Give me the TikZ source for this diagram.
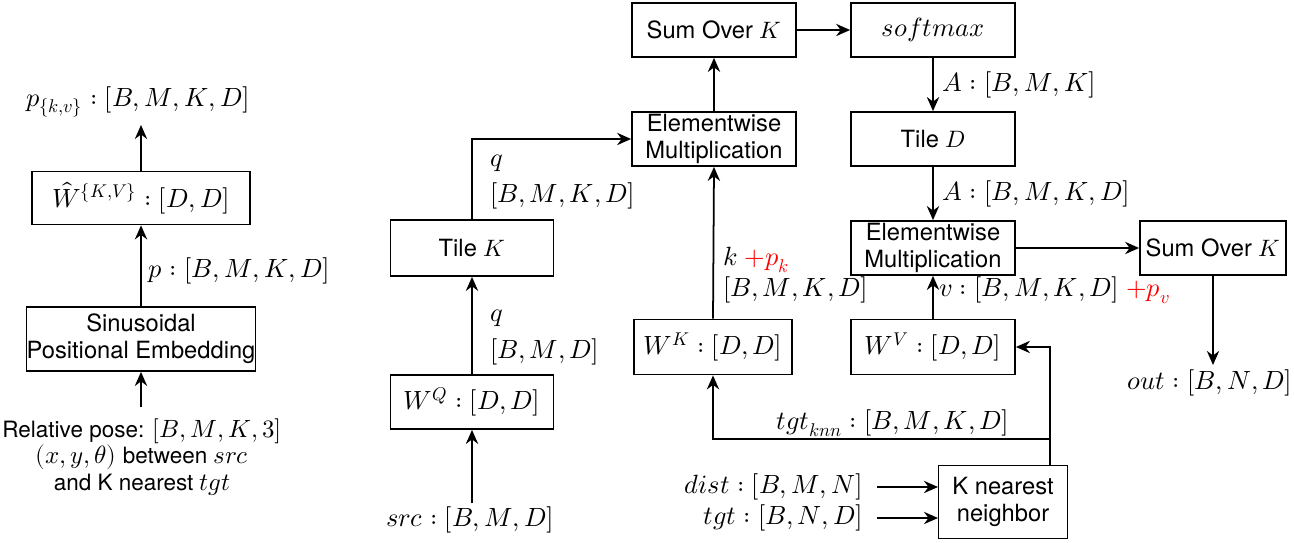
\documentclass[tikz,border=0pt]{standalone}
\usepackage{fontspec}
\setmainfont{TeX Gyre Heros}
\usepackage{unicode-math}
\setmathfont{Latin Modern Math}
\usetikzlibrary{arrows.meta}
\begin{document}
\begin{tikzpicture}[x=0.02cm,y=-0.02cm,
  box/.style={draw,line width=1pt,inner sep=0pt,align=center,font=\fontsize{13.5}{15.5}\selectfont},
  arr/.style={line width=1pt,-{Stealth[length=8pt,width=7pt]}},
  lab/.style={font=\fontsize{15}{17}\selectfont,inner sep=1pt}]
\useasboundingbox (0,0) rectangle (1294,543);
\newcommand{\bx}[6]{\node[box,minimum width=#4*0.02cm,minimum height=#5*0.02cm] (#1) at (#2,#3) {#6};}
% left column
\bx{sin}{141}{339}{218}{64}{Sinusoidal\\Positional Embedding}
\bx{what}{141}{198}{218}{53}{\fontsize{15}{17}\selectfont$\hat{W}^{\{K,V\}}:[D,D]$}
\node[lab] (pkv) at (138,102) {$p_{\{k,v\}}:[B,M,K,D]$};
\draw[arr] (what.north) -- (141,125);
\draw[arr] (sin.north) -- (what.south) node[lab,midway,right=3pt,yshift=-3pt] {$p:[B,M,K,D]$};
\node[lab,align=center,font=\fontsize{12.8}{15}\selectfont] (rel) at (142,457) {Relative pose: {\fontsize{14.2}{17}\selectfont$[B,M,K,3]$}\\{\fontsize{14.2}{17}\selectfont$(x,y,\theta)$} between {\fontsize{14.2}{17}\selectfont$src$}\\and K nearest {\fontsize{14.2}{17}\selectfont$tgt$}};
\draw[arr] (141,407) -- (sin.south);
% query branch
\bx{wq}{472}{402}{163}{54}{\fontsize{15}{17}\selectfont$W^{Q}:[D,D]$}
\bx{tk}{472}{248}{163}{56}{Tile $K$}
\node[lab] (src) at (470,520) {$src:[B,M,D]$};
\draw[arr] (472,503) -- (wq.south);
\draw[arr] (wq.north) -- (tk.south);
\node[lab,anchor=west] at (488,318) {$q$};
\node[lab,anchor=west] at (488,352) {$[B,M,D]$};
\bx{e1}{714}{139}{164}{54}{Elementwise\\Multiplication}
\bx{s1}{714}{30}{164}{54}{Sum Over $K$}
\draw[arr] (tk.north) |- (e1.west);
\node[lab,anchor=west] at (488,163) {$q$};
\node[lab,anchor=west] at (488,196) {$[B,M,K,D]$};
\draw[arr] (e1.north) -- (s1.south);
\bx{sm}{933}{30}{164}{54}{\fontsize{15}{17}\selectfont$softmax$}
\draw[arr] (s1.east) -- (sm.west);
\bx{td}{933}{139}{164}{54}{Tile $D$}
\draw[arr] (sm.south) -- (td.north) node[lab,midway,right=4pt] {$A:[B,M,K]$};
\bx{e2}{933}{248}{164}{54}{Elementwise\\Multiplication}
\draw[arr] (td.south) -- (e2.north) node[lab,midway,right=4pt] {$A:[B,M,K,D]$};
\bx{s2}{1213}{248}{146}{54}{Sum Over $K$}
\draw[arr] (e2.east) -- (s2.west);
\node[lab] (out) at (1210,383) {$out:[B,N,D]$};
\draw[arr] (s2.south) -- (1213,365);
% key / value
\bx{wk}{713}{347}{158}{55}{\fontsize{15}{17}\selectfont$W^{K}:[D,D]$}
\bx{wv}{933}{347}{164}{55}{\fontsize{15}{17}\selectfont$W^{V}:[D,D]$}
\draw[arr] (wk.north) -- (e1.south);
\node[lab,anchor=west] at (721,260) {$k$ \textcolor{red}{$+p_k$}};
\node[lab,anchor=west] at (721,290) {$[B,M,K,D]$};
\draw[arr] (wv.north) -- (e2.south);
\node[lab,anchor=west] at (937,290) {$v:[B,M,K,D]$ \textcolor{red}{$+p_v$}};
\bx{knn}{1003}{502}{129}{73}{K nearest\\neighbor}
\coordinate (c1) at (1050,465.5);
\draw[arr] (c1) |- (713,439) -- (wk.south);
\draw[arr] (c1) |- (wv.east);
\node[lab] at (893,423) {$tgt_{knn}:[B,M,K,D]$};
\node[lab,anchor=east] (dist) at (865,487) {$dist:[B,M,N]$};
\node[lab,anchor=east] (tgt) at (865,518) {$tgt:[B,N,D]$};
\draw[arr] (877,487) -- (938,487);
\draw[arr] (877,518) -- (938,518);
\end{tikzpicture}
\end{document}
